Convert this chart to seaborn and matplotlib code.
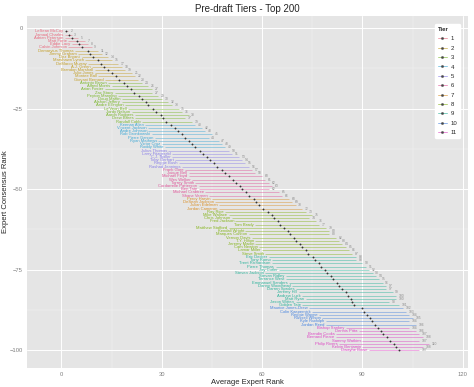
import numpy as np
import pandas as pd
import seaborn as sns
import matplotlib.pyplot as plt
from matplotlib.lines import Line2D

# players in consensus order, grouped by tier
players = [
    # tier 1
    "LeSean McCoy", "Jamaal Charles", "Adrian Peterson", "Matt Forte", "Eddie Lacy", "Calvin Johnson",
    # tier 2
    "Demaryius Thomas", "Jimmy Graham", "Dez Bryant", "Marshawn Lynch", "DeMarco Murray",
    "A.J. Green", "Brandon Marshall", "Julio Jones", "Montee Ball", "Giovani Bernard",
    # tier 3
    "Antonio Brown", "Alfred Morris", "Arian Foster", "Zac Stacy", "Peyton Manning", "Doug Martin",
    "Alshon Jeffery", "Andre Ellington", "Le'Veon Bell", "Jordy Nelson", "Aaron Rodgers",
    "Drew Brees", "Randall Cobb",
    # tier 4
    "Keenan Allen", "Vincent Jackson", "Andre Johnson", "Rob Gronkowski", "Pierre Garcon",
    "Ryan Mathews", "Victor Cruz", "Roddy White",
    # tier 5
    "Julius Thomas", "Larry Fitzgerald", "C.J. Spiller", "Toby Gerhart", "Reggie Bush", "Rashad Jennings",
    # tier 6
    "Frank Gore", "Joique Bell", "Michael Floyd", "Wes Welker", "Torrey Smith",
    "Cordarrelle Patterson", "Ben Tate", "Michael Crabtree", "Shane Vereen",
    # tier 7
    "Percy Harvin", "DeSean Jackson", "Julian Edelman", "Jordan Cameron",
    # tier 8
    "Ray Rice", "Mike Wallace", "Chris Johnson", "Fred Jackson", "Tom Brady", "Matthew Stafford",
    "Kendall Wright", "Marques Colston", "Vernon Davis", "T.Y. Hilton", "Jeremy Maclin",
    "Cam Newton", "Lamar Miller", "Steve Smith",
    # tier 9
    "Eric Decker", "Tony Romo", "Trent Richardson", "Pierre Thomas", "Jay Cutler", "Steven Jackson",
    "Stevan Ridley", "Terrance West", "Emmanuel Sanders", "Danny Woodhead", "Darren Sproles",
    "Jeremy Hill", "Andrew Luck", "Matt Ryan", "Jason Witten", "Golden Tate",
    # tier 10
    "Maurice Jones-Drew", "Colin Kaepernick", "Reggie Wayne", "Russell Wilson", "Kyle Rudolph", "Jordan Reed",
    # tier 11
    "Bishop Sankey", "Dennis Pitta", "Brandin Cooks", "Bernard Pierce", "Sammy Watkins",
    "Philip Rivers", "Kelvin Benjamin", "Dwayne Bowe",
]

tier_sizes = [6, 10, 13, 8, 6, 9, 4, 14, 16, 6, 8]

avg_rank = [
    1.5, 2.4, 3.1, 4.6, 5.3, 6.2,
    7.8, 8.6, 9.5, 10.9, 11.7, 12.8, 14.0, 15.1, 16.4, 17.3,
    18.6, 19.5, 20.9, 21.8, 23.2, 24.1, 25.4, 26.0, 27.3, 28.2, 29.7, 30.5, 31.4,
    32.8, 33.9, 34.7, 36.1, 36.9, 38.2, 39.1, 39.9,
    41.4, 42.3, 43.6, 44.3, 45.7, 46.5,
    48.1, 48.9, 50.0, 51.2, 52.1, 53.4, 54.0, 55.2, 56.0,
    57.5, 58.3, 59.2, 60.3,
    61.9, 62.8, 63.6, 64.7, 65.3, 66.5, 67.6, 68.2, 69.4, 70.1, 71.2, 72.0, 73.1, 73.8,
    75.2, 75.9, 77.0, 77.6, 78.8, 79.4, 80.5, 81.1, 82.3, 83.0, 83.8, 85.0, 85.7, 86.5, 86.8, 87.5,
    89.8, 90.5, 91.3, 92.1, 92.8, 93.6,
    94.7, 95.5, 96.2, 97.4, 98.1, 99.3, 100.0, 100.8,
]

best_rank = [
    1, 1, 1, 2, 3, 2,
    4, 5, 6, 7, 8, 9, 10, 10, 11, 13,
    14, 15, 13, 16, 17, 18, 18, 19, 20, 21, 22, 22, 24,
    25, 26, 26, 27, 28, 29, 30, 31,
    32, 33, 33, 34, 35, 36,
    37, 38, 38, 39, 40, 41, 41, 43, 44,
    45, 46, 47, 47,
    49, 50, 51, 52, 58, 50, 55, 56, 57, 58, 58, 59, 60, 61,
    62, 63, 63, 64, 65, 61, 67, 67, 68, 69, 70, 71, 72, 73, 70, 72,
    74, 75, 77, 78, 79, 79,
    85, 89, 82, 82, 90, 83, 90, 92,
]

worst_rank = [
    2, 3, 5, 7, 8, 9,
    11, 12, 14, 15, 17, 18, 19, 21, 22, 23,
    24, 26, 27, 27, 29, 30, 32, 33, 35, 36, 38, 37, 39,
    40, 42, 43, 45, 44, 47, 48, 49,
    50, 51, 53, 54, 55, 56,
    57, 58, 60, 61, 62, 63, 62, 65, 66,
    68, 69, 70, 72,
    73, 75, 74, 76, 77, 79, 80, 80, 82, 83, 84, 85, 86, 87,
    88, 88, 90, 91, 92, 93, 94, 95, 96, 97, 97, 99, 100, 100, 98, 101,
    102, 103, 104, 105, 104, 106,
    104, 106, 107, 108, 107, 110, 108, 107,
]

tier_colors = ["#E8697E", "#C4A02A", "#7CB82F", "#3FA9D6", "#8A7FE8", "#E0569A",
               "#D9912B", "#86B51E", "#2DB39B", "#4A86E0", "#DE47C4"]

df = pd.DataFrame({
    "player": players,
    "tier": np.repeat(np.arange(1, 12), tier_sizes),
    "avg": avg_rank,
    "lo": best_rank,
    "hi": worst_rank,
})
df["rank"] = -(np.arange(len(df)) + 1)
df["color"] = [tier_colors[t - 1] for t in df["tier"]]

sns.set_theme(style="darkgrid", rc={
    "axes.facecolor": "#E5E5E5",
    "grid.color": "white",
    "grid.linewidth": 0.7,
    "xtick.color": "#7F7F7F",
    "ytick.color": "#7F7F7F",
    "xtick.labelcolor": "#7F7F7F",
    "ytick.labelcolor": "#7F7F7F",
})
plt.rcParams["font.family"] = ["Liberation Sans", "DejaVu Sans"]

fig, ax = plt.subplots(figsize=(4.74, 3.87), dpi=100)
fig.subplots_adjust(left=0.057, right=0.987, top=0.959, bottom=0.049)

# minor grid like ggplot
for xv in [-15, 15, 45, 75, 105]:
    ax.axvline(xv, color="#F2F2F2", lw=0.35, zorder=0)
for yv in [12.5, -12.5, -37.5, -62.5, -87.5]:
    ax.axhline(yv, color="#F2F2F2", lw=0.35, zorder=0)

ax.hlines(df["rank"], df["lo"], df["hi"], colors=df["color"], lw=0.7, alpha=0.45, zorder=2)
sns.scatterplot(data=df, x="avg", y="rank", color="#333333", s=1.8, linewidth=0,
                legend=False, ax=ax, zorder=3)

for _, r in df.iterrows():
    ax.text(r["lo"] - 0.4, r["rank"], r["player"], color=r["color"], fontsize=3.0,
            ha="right", va="center", zorder=4)
    ax.text(r["hi"] + 0.8, r["rank"], str(int(r["hi"])), color="#8C8C8C", fontsize=2.4,
            ha="left", va="center", zorder=4)

ax.set_xlim(-10.3, 121.5)
ax.set_ylim(-105.5, 3.8)
ax.set_xticks([0, 30, 60, 90, 120])
ax.set_yticks([0, -25, -50, -75, -100])
ax.tick_params(axis="both", labelsize=4.2, length=2, width=0.5, pad=1, color="#7F7F7F")
ax.set_xlabel("Average Expert Rank", fontsize=5.5, labelpad=1)
ax.set_ylabel("Expert Consensus Rank", fontsize=5.5, labelpad=0.5)
ax.set_title("Pre-draft Tiers - Top 200", fontsize=7, pad=3)
for s in ax.spines.values():
    s.set_visible(False)

handles = [Line2D([0], [0], color=c, lw=0.7, alpha=0.6, marker="o", markersize=1.2,
                  markerfacecolor="#333333", markeredgecolor="#333333") for c in tier_colors]
leg = ax.legend(handles, [str(i) for i in range(1, 12)], title="Tier", loc="upper right",
                bbox_to_anchor=(0.99, 0.985), fontsize=4.3, title_fontsize=4.3,
                frameon=True, facecolor="white", edgecolor="white", framealpha=1,
                handlelength=1.6, labelspacing=0.7, borderpad=0.5, handletextpad=0.6)
leg.get_title().set_fontweight("bold")
leg._legend_box.align = "left"

fig.savefig("out.png", dpi=100)
